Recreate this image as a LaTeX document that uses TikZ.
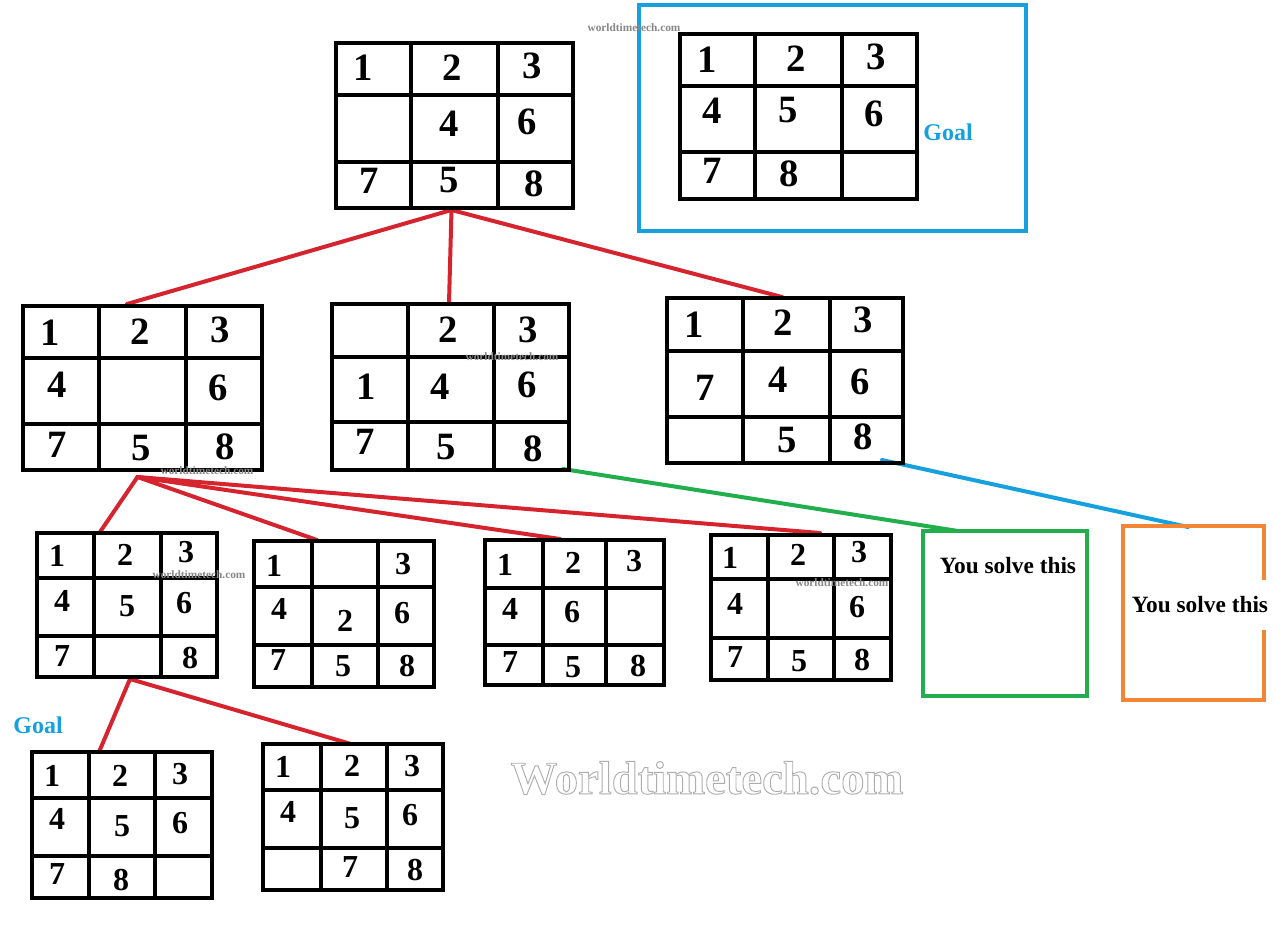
\documentclass[tikz,border=0pt]{standalone}
\usepackage{fontspec}
\setmainfont{Liberation Serif}
\usetikzlibrary{fit,calc,backgrounds}
\definecolor{pred}{RGB}{214,36,46}
\definecolor{pblue}{RGB}{22,160,222}
\definecolor{pgreen}{RGB}{34,174,76}
\definecolor{porange}{RGB}{243,134,52}
\definecolor{wmgray}{RGB}{135,135,135}
\tikzset{
  bigline/.style={line width=3pt},
  smallline/.style={line width=2.6pt},
  bignum/.style={font=\fontsize{29}{29}\selectfont\bfseries, inner sep=0pt},
  smallnum/.style={font=\fontsize{24}{24}\selectfont\bfseries, inner sep=0pt},
  redline/.style={draw=pred, line width=3pt, line cap=round},
  greenline/.style={draw=pgreen, line width=3pt, line cap=round},
  blueline/.style={draw=pblue, line width=3pt, line cap=round},
  goaltext/.style={text=pblue, font=\fontsize{18}{18}\selectfont\bfseries, inner sep=0pt},
  solvetext/.style={font=\fontsize{17.5}{17.5}\selectfont\bfseries},
  wmsmall/.style={text=wmgray, font=\fontsize{8.5}{8.5}\selectfont\bfseries, inner sep=0pt},
}
% name, x0, y0, x1, y1, v1, v2, h1, h2
\newcommand\puzgrid[9]{%
  \node[fit={(#2,#3)(#4,#5)}, inner sep=0pt, outer sep=0pt, draw, gridstyle] (#1) {};
  \draw[gridstyle] (#6,#3) -- (#6,#5) (#7,#3) -- (#7,#5) (#2,#8) -- (#4,#8) (#2,#9) -- (#4,#9);
}
\newcommand\puznums[3]{%
  \foreach \px/\py/\pn [count=\pk] in {#3} \node[#2] (#1-\pk) at (\px,\py) {\pn};
}
\begin{document}
\begin{tikzpicture}[x=0.75pt,y=-0.75pt]
\useasboundingbox (0,0) rectangle (1275,930);
\begin{pgfonlayer}{background}
  \fill[white] (0,0) rectangle (1275,930);
\end{pgfonlayer}

% ---- big grids ----
\tikzset{gridstyle/.style={bigline}}
\puzgrid{A}{336}{43}{573}{208}{411}{498}{95}{162}
\puznums{A}{bignum}{363/68/1,452/68/2,532/66/3,449/124/4,527/122/6,369/181/7,449/180/5,534/184/8}

\puzgrid{GL}{680}{34}{917}{199}{755}{842}{86}{152}
\puznums{GL}{bignum}{707/60/1,796/59/2,876/57/3,712/111/4,788/110/5,874/114/6,712/171/7,789/174/8}

\puzgrid{B}{23}{306}{262}{470}{99}{186}{358}{424}
\puznums{B}{bignum}{50/333/1,140/332/2,220/330/3,57/385/4,218/388/6,57/445/7,141/448/5,225/447/8}

\puzgrid{C}{332}{304}{569}{470}{408}{494}{357}{422}
\puznums{C}{bignum}{448/330/2,528/330/3,366/387/1,440/387/4,527/385/6,365/442/7,446/447/5,533/449/8}

\puzgrid{D}{667}{298}{903}{463}{743}{830}{351}{417}
\puznums{D}{bignum}{694/325/1,783/323/2,863/320/3,705/388/7,778/380/4,860/382/6,787/440/5,863/437/8}

% ---- small grids ----
\tikzset{gridstyle/.style={smallline}}
\puzgrid{E}{37}{533}{217}{677}{94}{161}{578}{636}
\puznums{E}{smallnum}{57/556/1,125/555/2,186/552/3,62/601/4,127/606/5,184/603/6,62/656/7,190/658/8}

\puzgrid{F}{254}{541}{434}{687}{312}{378}{587}{645}
\puznums{F}{smallnum}{274/566/1,403/564/3,279/609/4,345/621/2,402/613/6,278/660/7,343/666/5,407/666/8}

\puzgrid{G}{485}{540}{664}{685}{543}{606}{588}{645}
\puznums{G}{smallnum}{505/565/1,573/563/2,634/561/3,510/609/4,572/612/6,510/662/7,573/667/5,638/666/8}

\puzgrid{H}{711}{535}{891}{680}{768}{834}{579}{638}
\puznums{H}{smallnum}{730/558/1,798/555/2,859/552/3,735/604/4,857/607/6,735/657/7,799/661/5,862/660/8}

\puzgrid{I}{32}{752}{212}{898}{89}{155}{798}{856}
\puznums{I}{smallnum}{52/776/1,120/776/2,180/774/3,57/819/4,122/826/5,180/823/6,57/874/7,121/880/8}

\puzgrid{J}{263}{744}{443}{890}{321}{387}{790}{848}
\puznums{J}{smallnum}{283/767/1,352/766/2,412/766/3,288/812/4,352/818/5,410/815/6,350/867/7,415/870/8}

% ---- coloured boxes ----
\node[fit={(639,5)(1026,231)}, inner sep=0pt, outer sep=0pt, draw=pblue, line width=3.6pt] (GoalBox) {};
\node[fit={(923,531)(1087,696)}, inner sep=0pt, outer sep=0pt, draw=pgreen, line width=3.2pt] (GB) {};
\node[fit={(1123,526)(1264,700)}, inner sep=0pt, outer sep=0pt, draw=porange, line width=3.6pt] (OB) {};

\node[goaltext] (goal1) at (948,132) {Goal};
\node[goaltext] (goal2) at (38,725) {Goal};
\node[solvetext, inner sep=0pt] (solve1) at (1008,566) {You solve this};
\node[solvetext, fill=white, inner xsep=3pt, inner ysep=0pt, minimum height=37.5pt] (solve2) at (1200,605) {You solve this};

% ---- connectors (behind grids) ----
\begin{pgfonlayer}{background}
  \draw[redline] ($(A.south)+(-3,2)$) -- ($(B.north)+(-15.5,-2)$);
  \draw[redline] ($(A.south)+(-3,2)$) -- ($(C.north)+(-1.5,-1)$);
  \draw[redline] ($(A.south)+(-3,2)$) -- ($(D.north)+(-3,-1)$);
  \draw[redline] ($(B.south)+(-5,7)$) -- ($(E.north)+(-27,-1)$);
  \draw[redline] ($(B.south)+(-5,7)$) -- ($(F.north)+(-27,-1)$);
  \draw[redline] ($(B.south)+(-5,7)$) -- ($(G.north)+(-14.5,-1)$);
  \draw[redline] ($(B.south)+(-5,7)$) -- ($(H.north)+(19,-2)$);
  \draw[redline] ($(E.south)+(3,2)$) -- ($(I.north)+(-23,0)$);
  \draw[redline] ($(E.south)+(3,2)$) -- ($(J.north)+(-2,0)$);
  \draw[greenline] ($(C.south east)+(-6,-1)$) -- ($(GB.north)+(-47,0)$);
  \draw[blueline] ($(D.south east)+(-21,-3)$) -- ($(OB.north)+(-5.5,1)$);
\end{pgfonlayer}

% ---- watermarks ----
\node[wmsmall] (wm1) at (634,28) {worldtimetech.com};
\node[wmsmall] (wm2) at (512,357) {worldtimetech.com};
\node[wmsmall] (wm3) at (207,471) {worldtimetech.com};
\node[wmsmall] (wm4) at (199,575) {worldtimetech.com};
\node[wmsmall] (wm5) at (842,583) {worldtimetech.com};
\node[text=black!32, font=\fontsize{35}{35}\selectfont\bfseries, inner sep=0pt] (wmbig) at (707,778)
  {\special{pdf:literal direct 1 Tr 0.7 w}Worldtimetech.com\special{pdf:literal direct 0 Tr}};
\end{tikzpicture}
\end{document}
